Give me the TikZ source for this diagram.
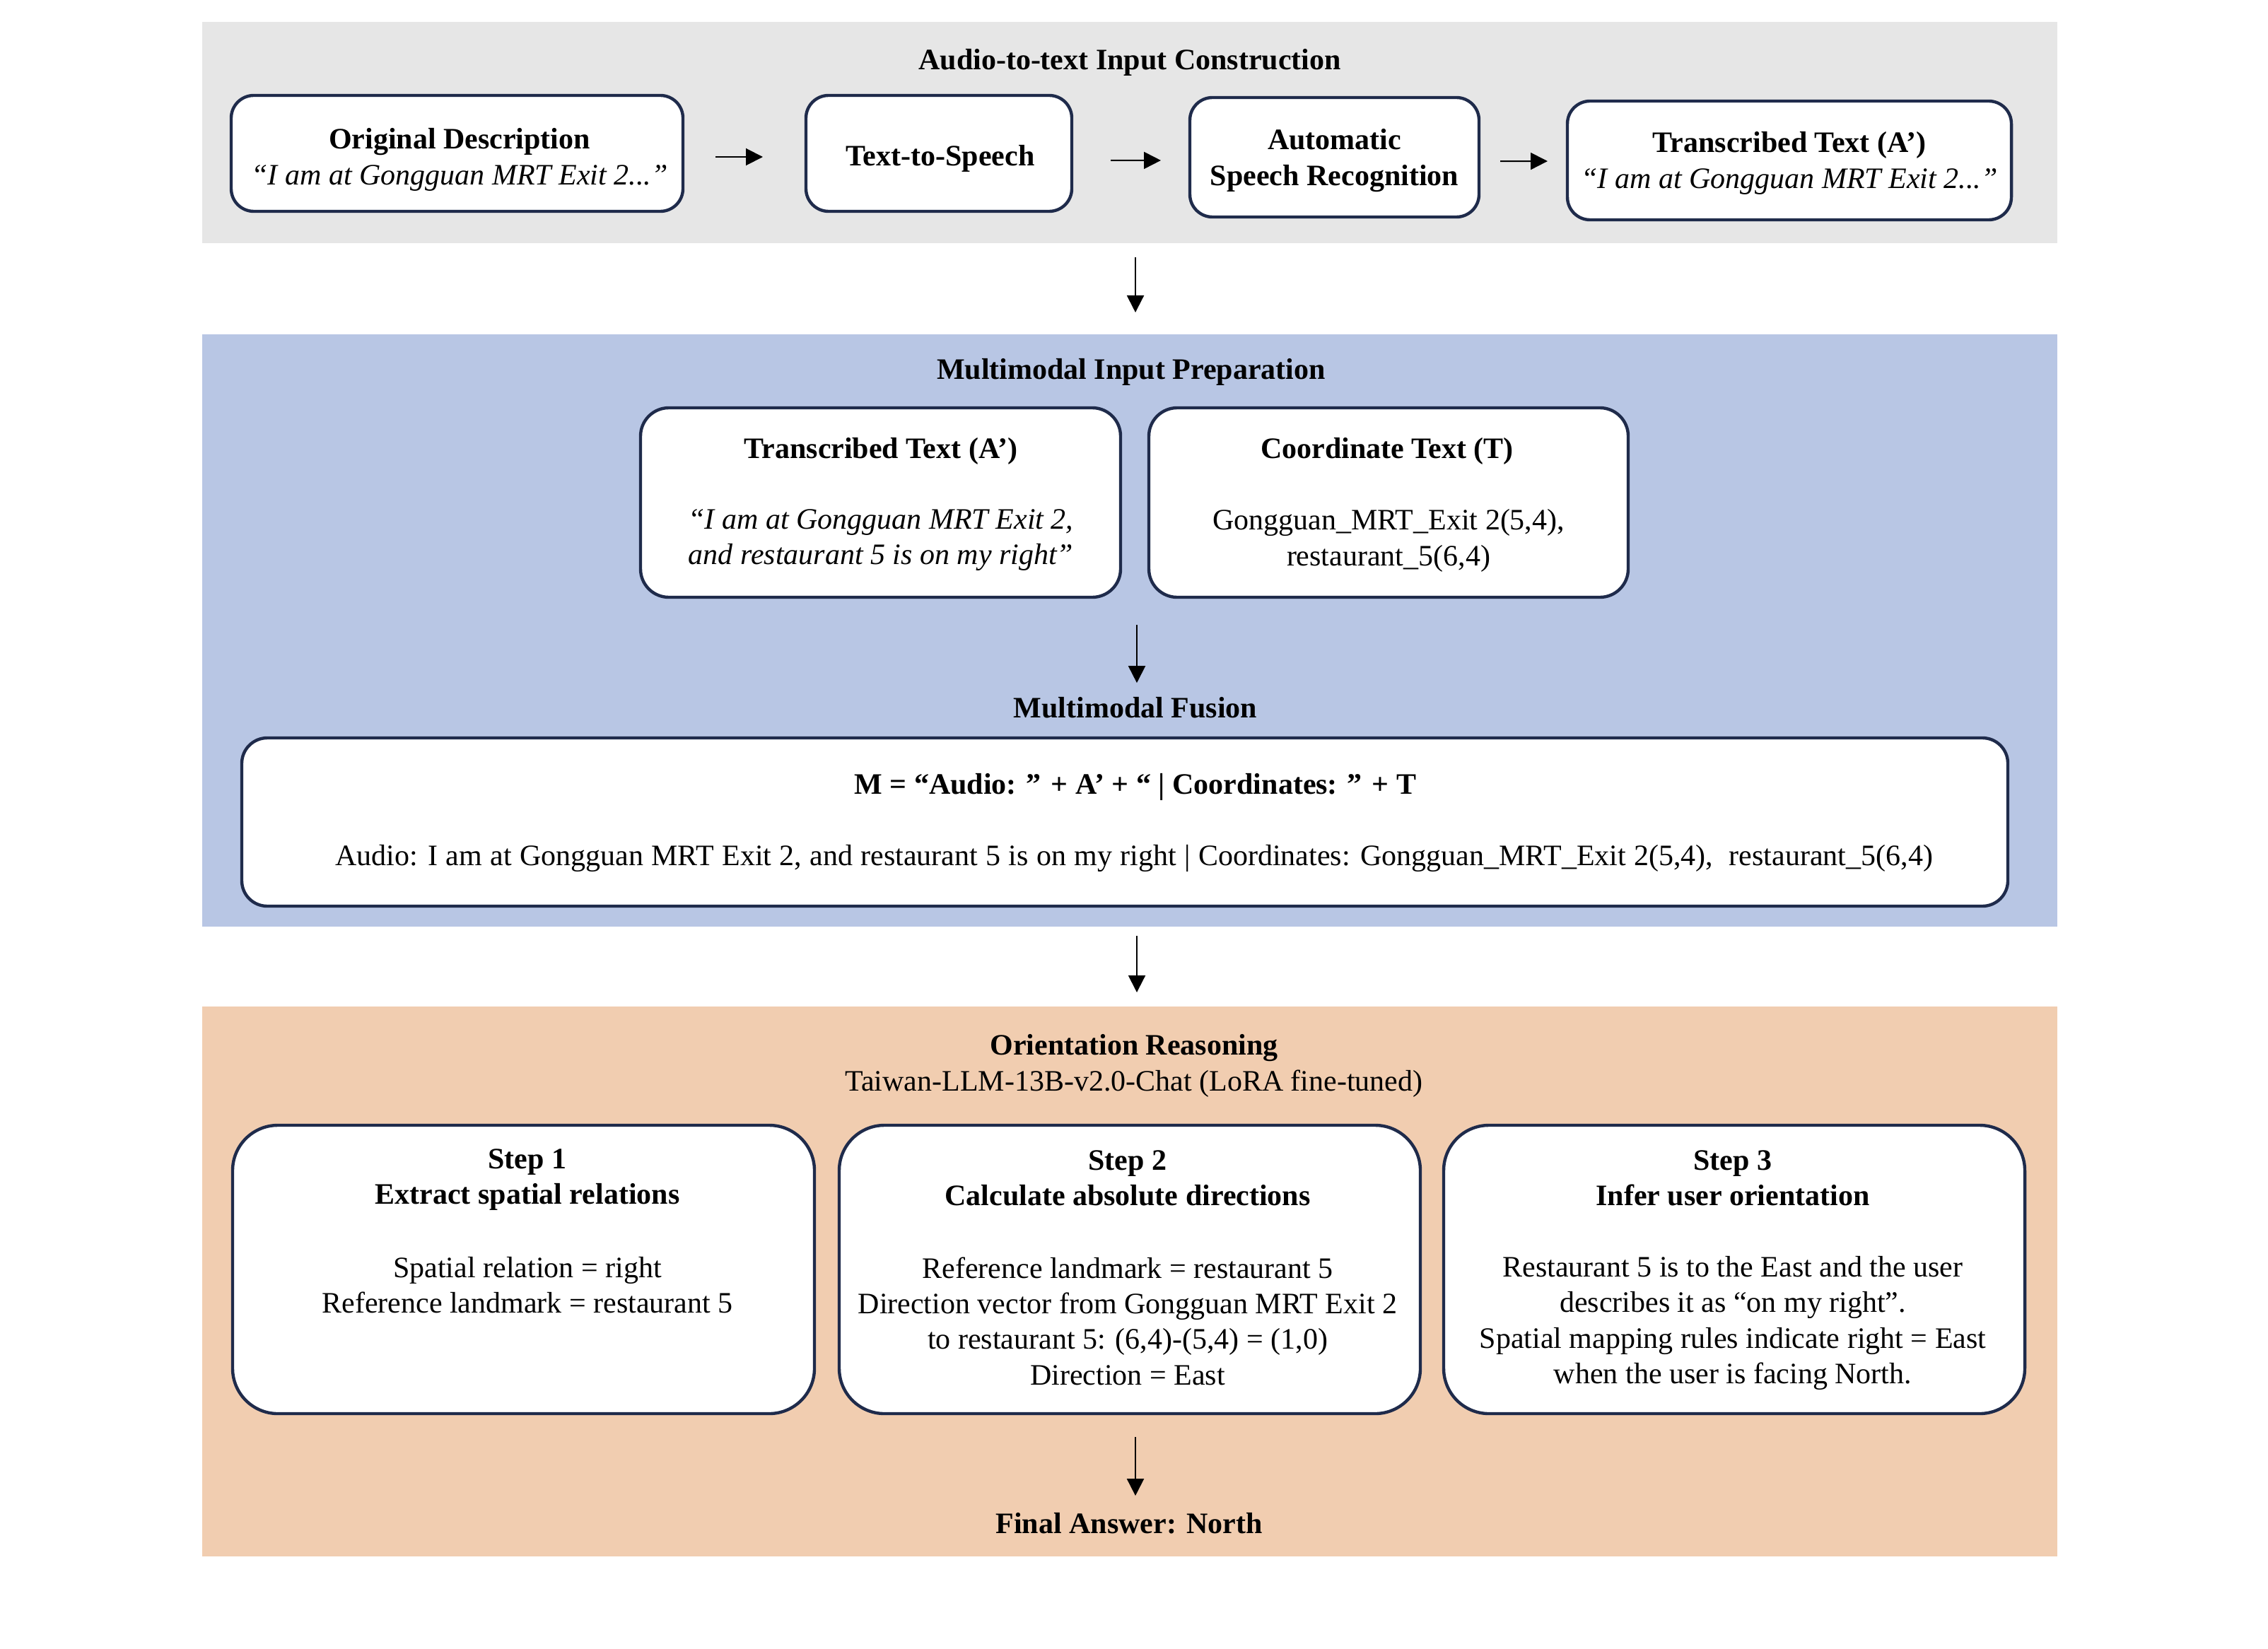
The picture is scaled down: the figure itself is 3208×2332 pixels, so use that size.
\documentclass[tikz,border=0pt]{standalone}
\usepackage{fontspec}
\setmainfont{Liberation Serif}
\usetikzlibrary{arrows.meta}
\definecolor{greyp}{HTML}{E6E6E6}
\definecolor{bluep}{HTML}{B8C6E4}
\definecolor{orangep}{HTML}{F1CDB0}
\definecolor{navy}{HTML}{1F2B4B}
\newcommand\myfs{\fontsize{10.5pt}{12.6pt}\selectfont}
\newcommand\widefs{\myfs\spaceskip=0.27em plus 0.1em\relax}
\begin{document}
\begin{tikzpicture}[x=0.25pt,y=-0.25pt,
  panel/.style={draw=none, minimum width=656pt, inner sep=0pt, outer sep=0pt},
  box/.style={draw=navy, line width=1.1pt, fill=white, rounded corners=8pt, inner sep=0pt, outer sep=0pt, align=center, font=\myfs},
  txt/.style={inner sep=0pt, outer sep=0pt, align=center, font=\myfs},
  arr/.style={-{Triangle[length=6pt,width=6pt]}, line width=0.5pt, black}]
\useasboundingbox (0,0) rectangle (3208,2332);
\fill[white] (0,0) rectangle (3208,2332);
% panels
\node[panel, fill=greyp, minimum height=78.25pt] (grey) at (1598,187.5) {};
\node[panel, fill=bluep, minimum height=209.5pt] (blue) at (1598,892) {};
\node[panel, fill=orangep, minimum height=194.5pt] (orange) at (1598,1813) {};
% top panel
\node[txt] (gtitle) at (1598,88) {\textbf{Audio-to-text Input Construction}};
\node[box, minimum width=159.75pt, minimum height=41pt] (b1) at (646.5,217) {};
\node[box, minimum width=94pt, minimum height=41pt] (b2) at (1328,217) {};
\node[box, minimum width=102.25pt, minimum height=42.25pt] (b3) at (1887.5,222.5) {};
\node[box, minimum width=157pt, minimum height=42pt] (b4) at (2531,227) {};
\node[txt] (b1t) at (650,226) {\textbf{Original Description}\\ \textit{“I am at Gongguan MRT Exit 2...”}};
\node[txt] (b2t) at (1330,224) {\textbf{Text-to-Speech}};
\node[txt] (b3t) at (1887.5,227) {\textbf{Automatic}\\ \textbf{Speech Recognition}};
\node[txt] (b4t) at (2531,231) {\textbf{Transcribed Text (A’)}\\ \textit{“I am at Gongguan MRT Exit 2...”}};
\draw[arr, shorten <=11.5pt, shorten >=15.25pt] ([yshift=-1.25pt]b1.east) -- ([yshift=-1.25pt]b2.west);
\draw[arr, shorten <=13.75pt, shorten >=10.25pt] ([yshift=-2.5pt]b2.east) -- ([yshift=-1.1pt]b3.west);
\draw[arr, shorten <=7.5pt, shorten >=7pt] ([yshift=-1.4pt]b3.east) -- ([yshift=-0.25pt]b4.west);
% arrow grey -> blue
\draw[arr, shorten <=5pt, shorten >=7.75pt] ([xshift=2pt]grey.south) -- ([xshift=2pt]blue.north);
% blue panel
\node[txt] (btitle) at (1600,526) {\textbf{Multimodal Input Preparation}};
\node[box, rounded corners=10pt, minimum width=169.75pt, minimum height=67pt] (tA) at (1245.5,711) {};
\node[box, rounded corners=10pt, minimum width=169.5pt, minimum height=67pt] (tT) at (1964,711) {};
\node[txt] (tAt) at (1246,638) {\textbf{Transcribed Text (A’)}};
\node[txt] (tAb) at (1246,764) {\textit{“I am at Gongguan MRT Exit 2,}\\ \textit{and restaurant 5 is on my right”}};
\node[txt] (tTt) at (1962,638) {\textbf{Coordinate Text (T)}};
\node[txt] (tTb) at (1964,765) {Gongguan\_MRT\_Exit 2(5,4),\\ restaurant\_5(6,4)};
\node[txt] (ftitle) at (1606,1001) {\textbf{Multimodal Fusion}};
\coordinate (mstart) at (1608,884);
\draw[arr, shorten >=5pt] (mstart) -- (mstart |- ftitle.north);
\node[box, rounded corners=9pt, minimum width=624.5pt, minimum height=59.5pt] (fusion) at (1591,1163) {};
\node[txt] (formula) at (1606,1113) {\textbf{M = “Audio: ” + A’ + “ | Coordinates: ” + T}};
\node[txt, font=\widefs] (audio) at (1604,1214) {Audio: I am at Gongguan MRT Exit 2, and restaurant 5 is on my right | Coordinates: Gongguan\_MRT\_Exit 2(5,4),\ \ restaurant\_5(6,4)};
% arrow blue -> orange
\draw[arr, shorten <=3.25pt, shorten >=5pt] ([xshift=2.5pt]blue.south) -- ([xshift=2.5pt]orange.north);
% orange panel
\node[txt] (otitle) at (1604,1508) {\textbf{Orientation Reasoning}\\ Taiwan-LLM-13B-v2.0-Chat (LoRA fine-tuned)};
\node[box, rounded corners=16pt, minimum width=205.75pt, minimum height=102pt] (s1) at (740.5,1796) {};
\node[box, rounded corners=16pt, minimum width=205.5pt, minimum height=102pt] (s2) at (1598,1796) {};
\node[box, rounded corners=16pt, minimum width=205.5pt, minimum height=102pt] (s3) at (2453,1796) {};
\node[txt] (s1t) at (746,1669) {\textbf{Step 1}\\ \textbf{Extract spatial relations}};
\node[txt] (s2t) at (1595,1667) {\textbf{Step 2}\\ \textbf{Calculate absolute directions}};
\node[txt] (s3t) at (2451,1667) {\textbf{Step 3}\\ \textbf{Infer user orientation}};
\node[txt] (s1b) at (746,1818) {Spatial relation = right\\ Reference landmark = restaurant 5};
\node[txt] (s2b) at (1595,1869) {Reference landmark = restaurant 5\\ Direction vector from Gongguan MRT Exit 2\\ to restaurant 5: (6,4)-(5,4) = (1,0)\\ Direction = East};
\node[txt] (s3b) at (2451,1872) {Restaurant 5 is to the East and the user\\ describes it as “on my right”.\\ Spatial mapping rules indicate right = East\\ when the user is facing North.};
\node[txt] (final) at (1597,2155) {\textbf{Final Answer: North}};
\draw[arr, shorten <=8.25pt, shorten >=6pt] ([xshift=2pt]s2.south) -- ([xshift=2pt]s2.south |- final.north);
\end{tikzpicture}
\end{document}
